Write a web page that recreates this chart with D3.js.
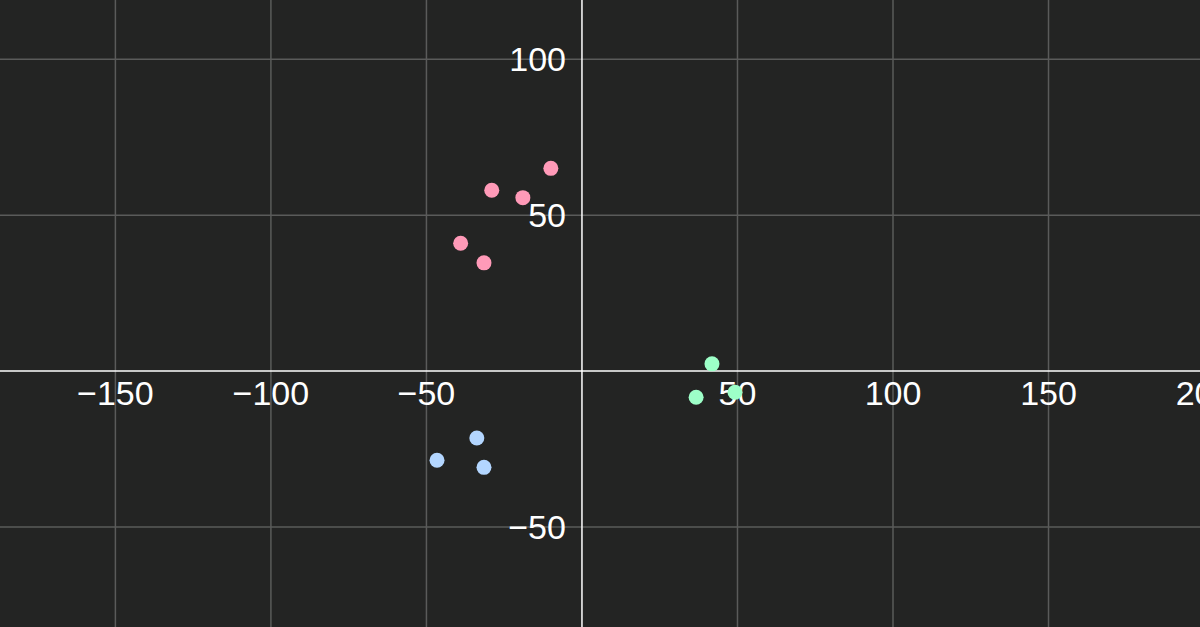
<!DOCTYPE html>
<html><head><meta charset="utf-8">
<script src="https://cdn.jsdelivr.net/npm/d3@7"></script>
<style>body{margin:0;background:#232423;}svg{display:block;}</style>
</head><body>
<svg id="chart" width="1200" height="627"></svg>
<script>
// point groups
var pinkX = [-10, -29, -19, -39, -31.5],
    pinkY = [65, 58, 55.6, 41, 34.7];
var blueX = [-33.8, -46.6, -31.5],
    blueY = [-21.5, -28.6, -30.9];
var greenX = [41.8, 36.7, 49.2],
    greenY = [2.3, -8.4, -6.8];
var xTicks = [-150, -100, -50, 50, 100, 150, 200],
    yTicks = [-50, 50, 100];
var xGrid = [-150, -100, -50, 50, 100, 150],
    yGrid = [-50, 50, 100];

var width = 1200, height = 627;
var svg = d3.select("#chart");

var x = d3.scaleLinear().domain([-187.1, 198.7]).range([0, width]);
var y = d3.scaleLinear().domain([-82.1, 119]).range([height, 0]);

svg.append("rect").attr("width", width).attr("height", height).attr("fill", "#232423");

// grid
svg.append("g").selectAll("line").data(xGrid).join("line")
  .attr("x1", d => x(d)).attr("x2", d => x(d))
  .attr("y1", 0).attr("y2", height)
  .attr("stroke", "#5a5b5a").attr("stroke-width", 1.5);
svg.append("g").selectAll("line").data(yGrid).join("line")
  .attr("y1", d => y(d)).attr("y2", d => y(d))
  .attr("x1", 0).attr("x2", width)
  .attr("stroke", "#5a5b5a").attr("stroke-width", 1.5);

// axes
svg.append("line").attr("x1", 0).attr("x2", width)
  .attr("y1", y(0)).attr("y2", y(0)).attr("stroke", "#ffffff").attr("stroke-width", 1.5);
svg.append("line").attr("y1", 0).attr("y2", height)
  .attr("x1", x(0)).attr("x2", x(0)).attr("stroke", "#ffffff").attr("stroke-width", 1.5);

var fmt = d => d < 0 ? "\u2212" + Math.abs(d) : String(d);

svg.append("g").selectAll("text").data(xTicks).join("text")
  .attr("x", d => x(d)).attr("y", y(0) + 34)
  .attr("text-anchor", "middle")
  .attr("font-family", "Liberation Sans, Arial, sans-serif")
  .attr("font-size", 34).attr("fill", "#ffffff")
  .text(fmt);

svg.append("g").selectAll("text").data(yTicks).join("text")
  .attr("x", x(0) - 16).attr("y", d => y(d) + 12)
  .attr("text-anchor", "end")
  .attr("font-family", "Liberation Sans, Arial, sans-serif")
  .attr("font-size", 34).attr("fill", "#ffffff")
  .text(fmt);

// points
function drawGroup(xs, ys, color) {
  svg.append("g").selectAll("circle").data(xs).join("circle")
    .attr("cx", d => x(d))
    .attr("cy", (d, i) => y(ys[i]))
    .attr("r", 7.5)
    .attr("fill", color);
}
drawGroup(pinkX, pinkY, "#ff9ab8");
drawGroup(blueX, blueY, "#b3d6ff");
drawGroup(greenX, greenY, "#9dffc8");
</script>
</body></html>
